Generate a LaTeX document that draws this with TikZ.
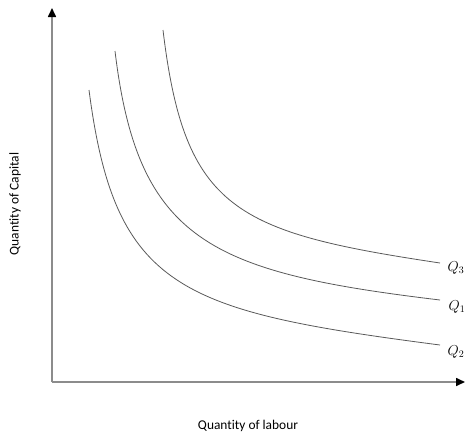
\documentclass[tikz,border=0pt]{standalone}
\usepackage{fontspec}
\setmainfont[Ligatures=NoCommon]{Carlito}
\usetikzlibrary{arrows.meta}
\begin{document}
\begin{tikzpicture}[x=1pt,y=-1pt,
  axisline/.style={draw=black!45,line width=1.6pt,-{Triangle[length=9pt,width=8pt,color=black]}},
  isoquant/.style={draw=black!65,line width=0.8pt},
  qlabel/.style={font=\fontsize{14}{16}\selectfont,inner sep=0pt},
  axlabel/.style={font=\fontsize{13.4}{16}\selectfont,inner sep=0pt}]
\useasboundingbox (0,0) rectangle (474,442);
\coordinate (O) at (52,382);
\coordinate (ytop) at (52,8);
\coordinate (xend) at (465,382);
\draw[axisline] (O) -- (ytop);
\draw[axisline] (O) -- (xend);
% Q3 (outer)
\coordinate (a0) at (163,30);
\coordinate (a1) at (440,263);
\draw[isoquant] (a0) .. controls (184.6,210) and (235,232.25) .. (a1);
% Q1 (middle)
\coordinate (b0) at (115,51);
\coordinate (b1) at (440,300);
\draw[isoquant] (b0) .. controls (137.8,241) and (210,272.4) .. (b1);
% Q2 (inner)
\coordinate (c0) at (89,90);
\coordinate (c1) at (440,345);
\draw[isoquant] (c0) .. controls (115,290) and (180,311.2) .. (c1);
\node[qlabel] (q3) at (456,268) {$Q_3$};
\node[qlabel] (q1) at (457,307) {$Q_1$};
\node[qlabel] (q2) at (456,352) {$Q_2$};
\node[axlabel,rotate=90] (ylab) at (15,204) {Quantity of Capital};
\node[axlabel] (xlab) at (248,426) {Quantity of labour};
\end{tikzpicture}
\end{document}
